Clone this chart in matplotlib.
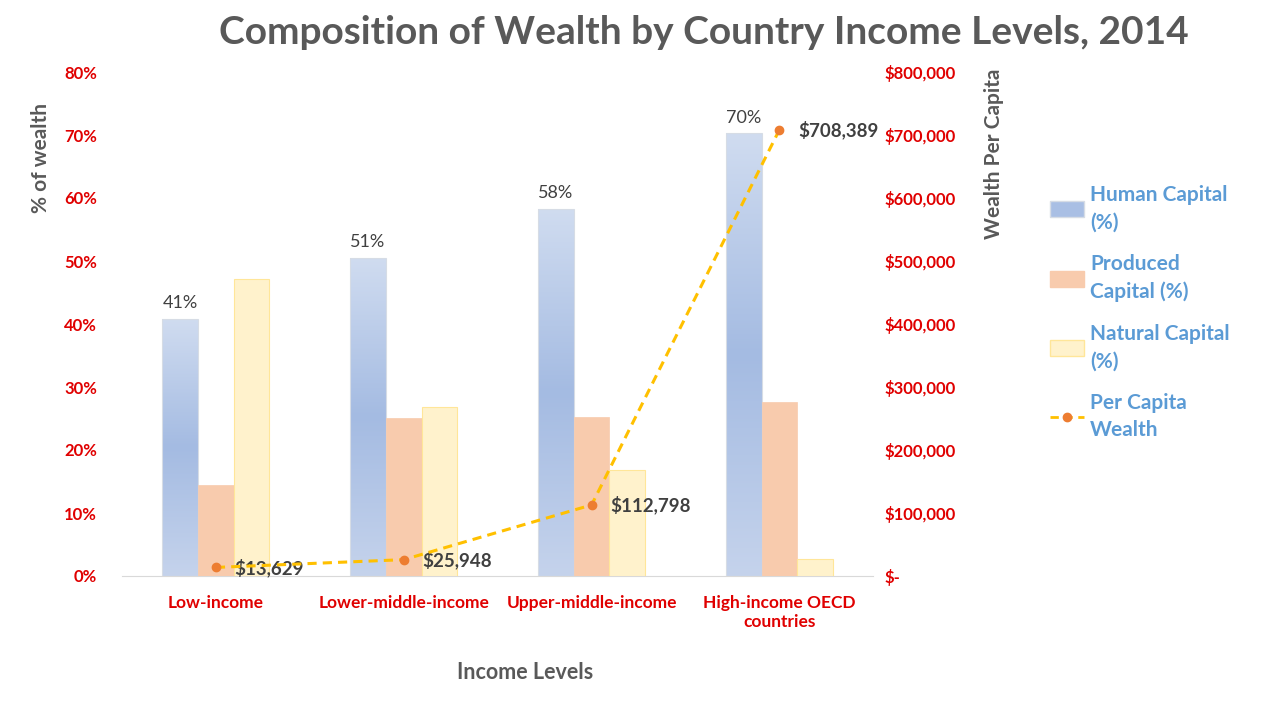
import matplotlib
matplotlib.use("Agg")
import matplotlib.pyplot as plt
import matplotlib.ticker as ticker
from matplotlib.colors import LinearSegmentedColormap
from matplotlib.lines import Line2D
from matplotlib.patches import Patch
import numpy as np

plt.rcParams['font.family'] = ['Lato', 'DejaVu Sans']

categories = ["Low-income", "Lower-middle-income", "Upper-middle-income", "High-income OECD\ncountries"]
human = [40.8, 50.5, 58.3, 70.3]
produced = [14.4, 25.1, 25.2, 27.6]
natural = [47.1, 26.8, 16.8, 2.7]
per_capita = [13629, 25948, 112798, 708389]
human_labels = ["41%", "51%", "58%", "70%"]
per_capita_labels = ["$13,629", "$25,948", "$112,798", "$708,389"]

RED = "#E00000"
GRAY = "#595959"
DARK = "#404040"
BLUE_TXT = "#5B9BD5"

fig = plt.figure(figsize=(12.8, 7.2), dpi=100)
ax = fig.add_axes([0.0953, 0.2, 0.587, 0.7])
ax2 = ax.twinx()

x = np.arange(len(categories))
w = 0.19

# human capital bars with vertical gradient
hbars = ax.bar(x - w, human, w, color="none", edgecolor="#D6DCE5", linewidth=0.8, zorder=3)
grad = LinearSegmentedColormap.from_list("g", ["#C5D3EC", "#A4BBE2", "#D0DCF0"])
g = np.linspace(0, 1, 256).reshape(-1, 1)
for b in hbars:
    x0, y0 = b.get_x(), b.get_y()
    im = ax.imshow(g, cmap=grad, aspect="auto", origin="lower",
                   extent=[x0, x0 + b.get_width(), y0, y0 + b.get_height()], zorder=2)
    im.set_clip_path(b)
ax.bar(x, produced, w, color="#F8CBAD", edgecolor="#F8CBAD", linewidth=0.5, zorder=3)
ax.bar(x + w, natural, w, color="#FFF2CC", edgecolor="#FFE699", linewidth=0.8, zorder=3)

for xi, v, lab in zip(x, human, human_labels):
    ax.text(xi - w, v + 1.2, lab, ha="center", va="bottom", fontsize=13, color=DARK)

ax.set_xlim(-0.5, len(categories) - 0.5)
ax.set_ylim(0, 80)
ax.set_xticks(x)
ax.set_xticklabels(categories, color=RED, fontsize=12.5, fontweight="bold")
ax.yaxis.set_major_locator(ticker.MultipleLocator(10))
ax.yaxis.set_major_formatter(ticker.FuncFormatter(lambda v, p: "%d%%" % v))
for t in ax.get_yticklabels():
    t.set_color(RED)
    t.set_fontweight("bold")
    t.set_fontsize(12)
ax.tick_params(axis="both", length=0)
ax.tick_params(axis="y", pad=18)
ax.tick_params(axis="x", pad=14)
for s in ["top", "left", "right"]:
    ax.spines[s].set_visible(False)
    ax2.spines[s].set_visible(False)
ax.spines["bottom"].set_color("#D9D9D9")
ax2.spines["bottom"].set_visible(False)

ax.set_ylabel("% of wealth", fontsize=15, fontweight="bold", color=GRAY)
ax.yaxis.set_label_coords(-0.095, 0.83)
ax.set_xlabel("Income Levels", fontsize=15.5, fontweight="bold", color=GRAY)
ax.xaxis.set_label_coords(0.537, -0.17)

# per capita line
ax2.plot(x, per_capita, color="#FFC000", linestyle="--", linewidth=2.2, dashes=(3, 2),
         marker="o", markersize=6, markerfacecolor="#ED7D31", markeredgecolor="#ED7D31", zorder=5)
for xi, v, lab in zip(x, per_capita, per_capita_labels):
    ax2.text(xi + 0.1, v, lab, ha="left", va="center", fontsize=13.5, fontweight="bold", color=DARK)
ax2.set_ylim(0, 800000)
ax2.yaxis.set_major_locator(ticker.MultipleLocator(100000))
ax2.yaxis.set_major_formatter(ticker.FuncFormatter(lambda v, p: "$-" if v == 0 else "${:,.0f}".format(v)))
for t in ax2.get_yticklabels():
    t.set_color(RED)
    t.set_fontweight("bold")
    t.set_fontsize(12)
ax2.tick_params(axis="y", length=0, pad=8)
ax2.set_ylabel("Wealth Per Capita", fontsize=15, fontweight="bold", color=GRAY)
ax2.yaxis.set_label_coords(1.147, 0.837)

handles = [
    Patch(facecolor="#A9BFE4", edgecolor="#D6DCE5", label="Human Capital\n(%)"),
    Patch(facecolor="#F8CBAD", edgecolor="#F8CBAD", label="Produced\nCapital (%)"),
    Patch(facecolor="#FFF2CC", edgecolor="#FFE699", label="Natural Capital\n(%)"),
    Line2D([], [], color="#FFC000", linestyle="--", linewidth=2, dashes=(3, 2), marker="o",
           markersize=6, markerfacecolor="#ED7D31", markeredgecolor="#ED7D31", label="Per Capita\nWealth"),
]
leg = fig.legend(handles=handles, loc="upper left", bbox_to_anchor=(0.806, 0.769), frameon=False,
                 fontsize=15, labelspacing=1.05, handlelength=1.6, handleheight=0.8, handletextpad=0.3)
for t in leg.get_texts():
    t.set_color(BLUE_TXT)
    t.set_fontweight("bold")
    t.set_linespacing(1.45)

fig.text(0.55, 0.955, "Composition of Wealth by Country Income Levels, 2014", ha="center", va="center",
         fontsize=28, fontweight="bold", color=GRAY)

fig.savefig("out.png", dpi=100)
